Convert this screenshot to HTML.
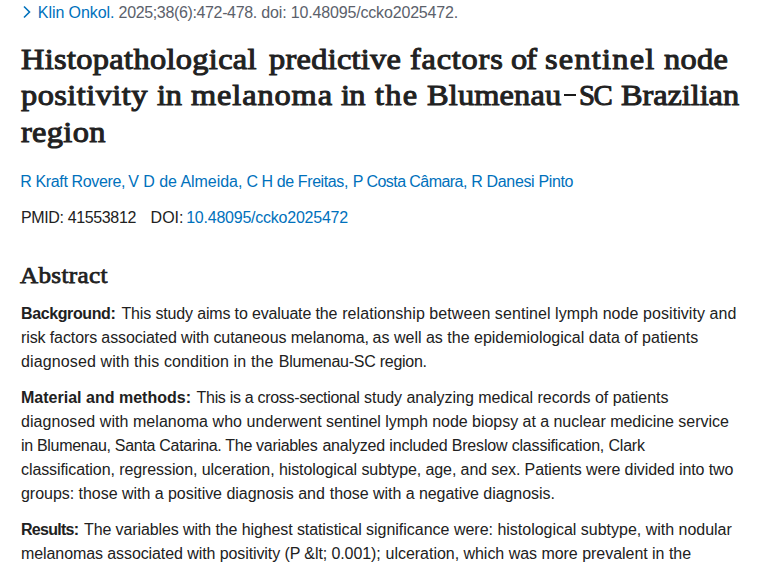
<!DOCTYPE html>
<html><head><meta charset="utf-8">
<style>
html,body{margin:0;padding:0;background:#fff;}
body{width:760px;height:570px;overflow:hidden;position:relative;font-family:"Liberation Sans",sans-serif;color:#212121;}
.s{position:absolute;white-space:nowrap;}
.cit{font-size:16px;line-height:24px;color:#5b616b;}
.blue{color:#0071bc;}
.bd{font-size:16px;line-height:24px;}
.b{font-weight:bold;}
.hd{font-family:"Liberation Serif",serif;font-weight:normal;font-size:30px;line-height:36.4px;-webkit-text-stroke:1.0px #212121;transform:scaleX(1.08);transform-origin:0 0;}
.abs{font-family:"Liberation Serif",serif;font-weight:normal;font-size:23.5px;line-height:30px;-webkit-text-stroke:0.75px #212121;}
.chev{position:absolute;left:22px;top:5px;}
</style></head><body>
<svg class="chev" width="10" height="14" viewBox="0 0 10 14"><path d="M2 1.5 L7.5 7 L2 12.5" fill="none" stroke="#0071bc" stroke-width="1.6"/></svg>
<div class="s cit blue" id="c1" style="left:37.80px;top:1.00px;letter-spacing:-0.060px;">Klin Onkol.</div>
<div class="s cit" id="c2" style="left:118.60px;top:1.00px;letter-spacing:-0.357px;">2025;38(6):472-478.</div>
<div class="s cit" id="c3" style="left:261.30px;top:1.00px;letter-spacing:-0.164px;">doi: 10.48095/ccko2025472.</div>
<div class="s hd" id="h1a" style="left:21.20px;top:41.00px;letter-spacing:0.302px;">Histopathological</div>
<div class="s hd" id="h1b" style="left:269.00px;top:41.00px;letter-spacing:0.247px;">predictive</div>
<div class="s hd" id="h1c" style="left:410.00px;top:41.00px;letter-spacing:0.710px;">factors</div>
<div class="s hd" id="h1d" style="left:510.60px;top:41.00px;letter-spacing:-0.900px;">of</div>
<div class="s hd" id="h1e" style="left:545.10px;top:41.00px;letter-spacing:1.119px;">sentinel</div>
<div class="s hd" id="h1f" style="left:664.00px;top:41.00px;letter-spacing:0.300px;">node</div>
<div class="s hd" id="h2a" style="left:21.00px;top:77.00px;letter-spacing:0.411px;">positivity</div>
<div class="s hd" id="h2b" style="left:157.00px;top:77.00px;letter-spacing:-0.200px;">in</div>
<div class="s hd" id="h2c" style="left:190.80px;top:77.00px;letter-spacing:0.807px;">melanoma</div>
<div class="s hd" id="h2d" style="left:341.00px;top:77.00px;letter-spacing:-0.700px;">in</div>
<div class="s hd" id="h2e" style="left:375.10px;top:77.00px;letter-spacing:1.200px;">the</div>
<div class="s hd" id="h2f" style="left:427.00px;top:77.00px;letter-spacing:0.134px;">Blumenau</div>
<div class="s hd" id="h2h" style="left:579.10px;top:77.00px;letter-spacing:-1.500px;transform:scaleX(0.96)">SC</div>
<div class="s hd" id="h2g" style="left:621.00px;top:77.00px;letter-spacing:-0.075px;">Brazilian</div>
<div class="s hd" id="h3a" style="left:21.00px;top:114.00px;letter-spacing:0.300px;">region</div>
<div class="s bd blue" id="a1" style="left:20.20px;top:170.00px;letter-spacing:-0.358px;">R Kraft Rovere,</div>
<div class="s bd blue" id="a2" style="left:128.20px;top:170.00px;letter-spacing:-0.041px;">V D de Almeida,</div>
<div class="s bd blue" id="a3" style="left:246.40px;top:170.00px;letter-spacing:-0.401px;">C H de Freitas,</div>
<div class="s bd blue" id="a4" style="left:352.80px;top:170.00px;letter-spacing:-0.564px;">P Costa C&#226;mara,</div>
<div class="s bd blue" id="a5" style="left:471.30px;top:170.00px;letter-spacing:-0.348px;">R Danesi Pinto</div>
<div class="s bd" id="p1" style="left:21.00px;top:206.00px;letter-spacing:-0.365px;">PMID: 41553812</div>
<div class="s bd" id="p2" style="left:150.60px;top:206.00px;letter-spacing:0.000px;">DOI:</div>
<div class="s bd blue" id="p3" style="left:186.20px;top:206.00px;letter-spacing:-0.233px;">10.48095/ccko2025472</div>
<div class="s abs" id="ab" style="left:20.00px;top:260.00px;letter-spacing:0.300px;transform:scaleX(1.07);transform-origin:0 0">Abstract</div>
<div class="s bd b" id="b1a" style="left:21.00px;top:302.00px;letter-spacing:-0.390px;">Background:</div>
<div class="s bd" id="b1b" style="left:121.50px;top:302.00px;letter-spacing:-0.156px;">This study aims to evaluate the</div>
<div class="s bd" id="b1c" style="left:342.20px;top:302.00px;letter-spacing:0.070px;">relationship between sentinel lymph node positivity and</div>
<div class="s bd" id="b2" style="left:21.00px;top:326.00px;letter-spacing:-0.109px;">risk factors associated with cutaneous melanoma,</div>
<div class="s bd" id="b2b" style="left:372.58px;top:326.00px;letter-spacing:0.001px;">as well as the epidemiological data of patients</div>
<div class="s bd" id="b3" style="left:21.00px;top:350.00px;letter-spacing:0.120px;">diagnosed with this condition in the</div>
<div class="s bd" id="b3b" style="left:278.80px;top:350.00px;letter-spacing:-0.263px;">Blumenau-SC region.</div>
<div class="s bd b" id="m1a" style="left:21.00px;top:386.00px;letter-spacing:0.010px;">Material and methods:</div>
<div class="s bd" id="m1b" style="left:196.59px;top:386.00px;letter-spacing:-0.312px;">This is a cross-sectional</div>
<div class="s bd" id="m1c" style="left:364.00px;top:386.00px;letter-spacing:-0.035px;">study analyzing medical records of patients</div>
<div class="s bd" id="m2" style="left:21.00px;top:410.00px;letter-spacing:0.051px;">diagnosed with melanoma who underwent</div>
<div class="s bd" id="m2b" style="left:326.00px;top:410.00px;letter-spacing:-0.034px;">sentinel lymph node biopsy at a nuclear medicine service</div>
<div class="s bd" id="m3" style="left:21.00px;top:434.00px;letter-spacing:-0.305px;">in Blumenau, Santa Catarina. The variables</div>
<div class="s bd" id="m3b" style="left:322.40px;top:434.00px;letter-spacing:-0.178px;">analyzed included Breslow classification, Clark</div>
<div class="s bd" id="m4" style="left:21.00px;top:458.00px;letter-spacing:-0.089px;">classification, regression, ulceration, histological</div>
<div class="s bd" id="m4b" style="left:361.46px;top:458.00px;letter-spacing:-0.099px;">subtype, age, and sex. Patients were divided into two</div>
<div class="s bd" id="m5" style="left:21.00px;top:482.00px;letter-spacing:-0.031px;">groups: those with a positive diagnosis and</div>
<div class="s bd" id="m5b" style="left:329.80px;top:482.00px;letter-spacing:-0.057px;">those with a negative diagnosis.</div>
<div class="s bd b" id="r1a" style="left:21.00px;top:518.00px;letter-spacing:-0.714px;">Results:</div>
<div class="s bd" id="r1b" style="left:84.00px;top:518.00px;letter-spacing:-0.102px;">The variables with the highest statistical</div>
<div class="s bd" id="r1c" style="left:366.00px;top:518.00px;letter-spacing:-0.012px;">significance were: histological subtype, with nodular</div>
<div class="s bd" id="r2" style="left:21.00px;top:542.00px;letter-spacing:-0.090px;">melanomas associated with positivity (P &amp;lt; 0.001);</div>
<div class="s bd" id="r2b" style="left:385.60px;top:542.00px;letter-spacing:-0.032px;">ulceration, which was more prevalent in the</div>
<div style="position:absolute;left:564px;top:94px;width:12px;height:2px;background:#1a1a1a"></div>
</body></html>
